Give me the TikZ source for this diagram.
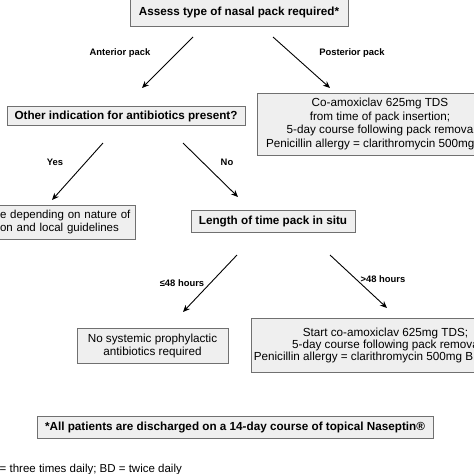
\documentclass[tikz,border=0pt]{standalone}
\usepackage{fontspec}
\setmainfont{Liberation Sans}
\usetikzlibrary{arrows.meta}
\definecolor{boxfill}{HTML}{EFEFEF}
\definecolor{boxline}{HTML}{707070}
\tikzset{
	box/.style={draw=boxline,fill=boxfill,line width=1pt,inner sep=0pt,align=center,font=\fontsize{11.7}{13.5}\selectfont},
	boldbox/.style={box,font=\bfseries\fontsize{11.7}{13.5}\selectfont},
	lab/.style={font=\bfseries\fontsize{9.4}{11}\selectfont,inner sep=0pt},
	arr/.style={line width=0.9pt,-{Stealth[length=7pt,width=6pt]}}
}
\begin{document}
\begin{tikzpicture}[x=1pt,y=-1pt]
	\useasboundingbox (0,0) rectangle (474,474);
	% boxes
	\node[boldbox,minimum width=218,minimum height=28] (assess) at (239,12) {Assess type of nasal pack required*};
	\node[boldbox,minimum width=238,minimum height=19] (other) at (126,116) {Other indication for antibiotics present?};
	\node[box,minimum width=246,minimum height=62] (post) at (380,124) {Co-amoxiclav 625mg TDS\\from time of pack insertion;\\5-day course following pack remova\hspace*{0.5em}\\Penicillin allergy = clarithromycin 500mg\hspace*{1.67em}};
	\node[box,font=\fontsize{11.5}{13.5}\selectfont,align=left,text width=132,inner xsep=3pt,minimum height=34] (choice) at (66,222) {e depending on nature of\\on and local guidelines};
	\node[boldbox,minimum width=164,minimum height=22] (length) at (273,221) {Length of time pack in situ};
	\node[box,font=\fontsize{11.7}{13}\selectfont,minimum width=151,minimum height=35] (nosys) at (152.5,345.5) {No systemic prophylactic\\antibiotics required};
	\node[box,font=\fontsize{11.7}{12}\selectfont,minimum width=269,minimum height=54] (start) at (385.5,345) {Start co-amoxiclav 625mg TDS;\\5-day course following pack remova\hspace*{0.5em}\\Penicillin allergy = clarithromycin 500mg B\hspace*{44pt}};
	\node[boldbox,minimum width=396,minimum height=22] (note) at (235,427) {*All patients are discharged on a 14-day course of topical Naseptin®};
	\node[anchor=west,inner sep=0pt,font=\fontsize{11.5}{13}\selectfont] (abbr) at (-0.5,470) {= three times daily; BD = twice daily};
	% arrow ends
	\coordinate (a1) at (193,37);  \coordinate (b1) at (142,88);
	\coordinate (a2) at (273,37);  \coordinate (b2) at (330,88);
	\coordinate (a3) at (103,143); \coordinate (b3) at (52,200);
	\coordinate (a4) at (183,143); \coordinate (b4) at (238,197);
	\coordinate (a5) at (237,255); \coordinate (b5) at (183,312);
	\coordinate (a6) at (330,255); \coordinate (b6) at (387,308);
	\draw[arr] (a1) -- (b1);
	\draw[arr] (a2) -- (b2);
	\draw[arr] (a3) -- (b3);
	\draw[arr] (a4) -- (b4);
	\draw[arr] (a5) -- (b5);
	\draw[arr] (a6) -- (b6);
	% labels
	\node[lab] (ant) at (120,53) {Anterior pack};
	\node[lab] (pos) at (352,53) {Posterior pack};
	\node[lab] (yes) at (55,162) {Yes};
	\node[lab] (no) at (227,162) {No};
	\node[lab] (le) at (182,283) {≤48 hours};
	\node[lab] (gt) at (383,279) {>48 hours};
\end{tikzpicture}
\end{document}
